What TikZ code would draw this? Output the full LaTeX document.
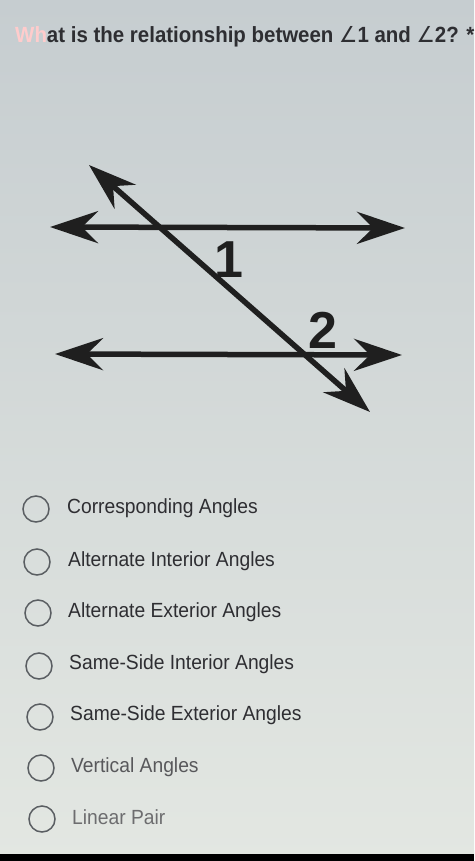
\documentclass[tikz,border=0pt]{standalone}
\usepackage{fontspec}
\setmainfont{Liberation Sans}
\newfontfamily\symfont{DejaVu Sans}
\usetikzlibrary{arrows.meta}
\definecolor{bgtop}{HTML}{C6CDD0}
\definecolor{bgmid}{HTML}{D9DDDC}
\definecolor{bgbot}{HTML}{E3E7E2}
\definecolor{txt}{HTML}{2E2E32}
\definecolor{ring}{HTML}{5A5E62}
\tikzset{
  ray/.style={line width=5.5pt, black!88, {Stealth[length=48pt,width=32pt,inset=16pt]}-{Stealth[length=48pt,width=32pt,inset=16pt]}},
  radio/.style={circle, draw=ring, line width=1.5pt, minimum size=26pt, inner sep=0pt},
  opt/.style={anchor=west, inner sep=0pt, text=txt, font=\fontsize{20.5}{24}\selectfont, xscale=0.94},
  num/.style={inner sep=0pt, font=\fontsize{52}{60}\selectfont\bfseries, text=black!88}
}
\begin{document}
\begin{tikzpicture}[x=1pt,y=-1pt]
\useasboundingbox (0,0) rectangle (474,861);
\shade[top color=bgtop, middle color=bgmid, bottom color=bgbot] (0,0) rectangle (474,861);
\fill[black] (0,854) rectangle (474,861);
% title
\node[anchor=base west, inner sep=0pt, text=txt, font=\fontsize{22}{26}\selectfont\bfseries, xscale=0.93] (title) at (15,43)
  {\textcolor{white!80!red}{Wh}at is the relationship between {\symfont\mdseries∠}1 and {\symfont\mdseries∠}2? *};
% geometry
\coordinate (tl) at (50,227);
\coordinate (tr) at (405,228);
\coordinate (bl) at (55,354);
\coordinate (br) at (402,355);
\coordinate (tu) at (89,165);
\coordinate (td) at (370,412);
\draw[ray] (tl) -- (tr);
\draw[ray] (bl) -- (br);
\draw[ray] (tu) -- (td);
\node[num] (n1) at (229,260) {1};
\node[num] (n2) at (323,330) {2};
% options
\node[radio] (r1) at (36,509) {};
\node[radio] (r2) at (37,562) {};
\node[radio] (r3) at (38,613) {};
\node[radio] (r4) at (39,666) {};
\node[radio] (r5) at (40,717) {};
\node[radio] (r6) at (41,768) {};
\node[radio] (r7) at (42,819) {};
\node[opt] (o1) at (67,508) {Corresponding Angles};
\node[opt] (o2) at (68,561) {Alternate Interior Angles};
\node[opt] (o3) at (68,612) {Alternate Exterior Angles};
\node[opt] (o4) at (69,664) {Same-Side Interior Angles};
\node[opt] (o5) at (70,715) {Same-Side Exterior Angles};
\node[opt, text=txt!80] (o6) at (71,767) {Vertical Angles};
\node[opt, text=txt!70] (o7) at (72,817) {Linear Pair};
\end{tikzpicture}
\end{document}
